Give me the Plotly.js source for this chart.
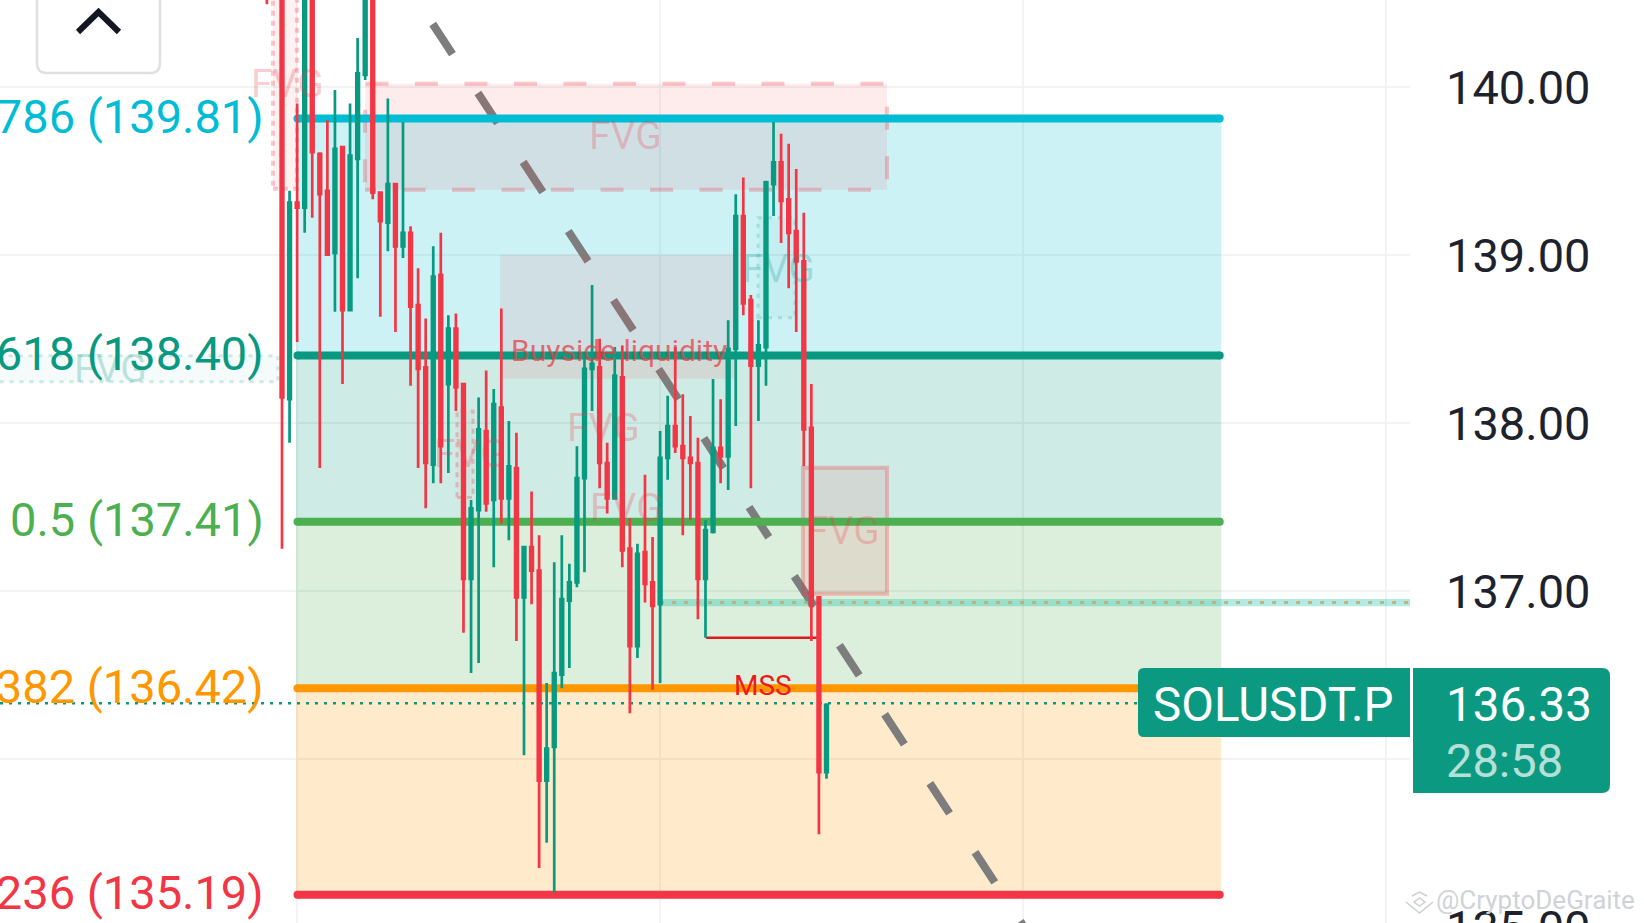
<!DOCTYPE html>
<html>
<head>
<meta charset="utf-8">
<script src="https://cdn.plot.ly/plotly-3.0.1.min.js"></script>
<style>html,body{margin:0;padding:0;background:#fff;overflow:hidden}#c{width:1644px;height:1000px}</style>
</head>
<body>
<div id="c"></div>
<script>
const open_ = [140.9,140.9,138.14,139.31,139.28,140.9,139.60,139.38,139.01,139.64,138.67,139.57,140.07,140.9,139.37,139.19,139.42,139.05,139.13,138.70,138.33,137.75,138.88,138.23,138.56,138.23,137.07,137.48,137.95,137.54,138.09,137.55,137.73,136.96,137.26,137.12,135.87,136.07,136.50,136.94,137.05,137.67,138.32,138.33,137.76,137.55,138.27,137.25,136.67,137.23,137.05,136.92,137.79,137.98,137.86,137.79,137.76,137.07,137.35,137.85,137.80,138.44,139.23,138.73,138.34,138.45,139.42,139.55,139.33,139.14,138.96,137.97,136.96,135.92];
const high_ = [141,141,139.38,139.90,141,141,139.61,139.80,139.98,139.64,139.90,140.29,141,141,139.37,139.93,139.42,139.79,139.17,138.92,138.62,139.05,139.13,138.64,138.65,138.23,137.54,138.15,138.31,138.20,138.68,138.01,137.94,137.26,137.59,137.33,136.45,137.17,137.33,137.16,137.86,138.38,138.82,138.50,137.88,138.45,138.46,137.43,137.28,137.69,137.32,137.95,138.16,138.45,138.17,138.04,137.91,137.42,138.26,138.14,138.61,139.36,139.46,138.76,138.61,139.44,139.79,139.72,139.66,139.51,139.25,138.23,136.96,136.33];
const low_ = [140.49,137.25,137.88,138.48,139.13,139.22,137.73,139.00,138.66,138.23,138.67,138.86,140.04,139.33,138.63,139.02,138.54,138.98,138.22,137.73,137.49,137.64,137.64,137.70,138.07,136.75,136.51,136.57,137.47,137.14,137.40,137.30,136.70,136.02,136.92,135.35,135.50,135.20,136.42,136.54,137.02,137.11,138.07,137.61,137.46,137.55,137.14,136.27,136.60,136.93,136.41,136.45,137.66,137.82,137.33,137.42,136.83,136.72,137.34,137.64,137.60,137.98,138.64,137.61,138.01,138.22,139.23,139.07,138.80,138.54,137.74,136.70,135.55,135.88];
const close_ = [140.55,138.15,139.31,139.28,140.9,139.61,139.36,139.00,139.63,138.67,139.59,140.08,140.9,139.37,139.20,139.42,139.05,139.13,138.69,138.32,137.76,138.87,137.86,138.56,138.21,137.07,137.49,137.96,137.52,138.11,137.55,137.74,136.96,137.26,137.12,135.87,136.06,136.51,136.95,137.05,137.67,138.32,138.35,137.76,137.55,138.28,137.24,136.67,137.22,137.04,136.91,137.79,137.98,137.86,137.79,137.76,137.07,137.36,137.85,137.80,138.44,139.23,138.71,138.34,138.46,139.43,139.55,139.32,139.13,138.96,137.96,136.91,135.92,136.32];
const candleIndex = [-2].concat(open_.slice(1).map((_, i) => i));

const fibNames = ["0.786","0.618","0.5","0.382","0.236"];
const fibPrices = [139.81,138.40,137.41,136.42,135.19];
const fibColors = ["#00bcd4","#089981","#4caf50","#ff9800","#f23645"];
const fibStart = 1.85, fibEnd = 124.2, fibLabelIndex = -2.1;
const fibLineStart = 2.05, fibLineEnd = 124.0;

const priceTicks = [140,139,138,137,136,135];
const priceTickText = ["140.00","139.00","138.00","137.00","","135.00"];
const timeTicks = [2,50,98,146];

const lastPrice = 136.33;
const dashedTrendX = [19.93,99.83];
const dashedTrendY = [140.373,134.88];
const mssX = [56.07,70.74];
const mssY = [136.72,136.72];

const zoneX0 = [10.98,-1.19,-40,62.94,28.83,23.14,68.89,50];
const zoneX1 = [80,1.98,-0.53,67.83,60.17,25.26,80,149.2];
const zoneY0 = [139.387,139.393,138.244,138.625,138.262,137.554,136.982,136.908];
const zoneY1 = [140.018,141,138.399,139.22,139.0,138.07,137.732,136.95];
const RED_F="rgba(242,54,69,0.1)", RED_L="rgba(242,54,69,0.28)", GRN_F="rgba(8,153,129,0.04)", GRN_L="rgba(8,153,129,0.2)";
const fvgDash = "11px,26.5px," + Array(30).fill("23px,26.5px").join(",");
const zoneStyle = [
 {f:RED_F,c:RED_L,w:4,d:fvgDash},
 {f:"rgba(242,54,69,0.07)",c:RED_L,w:4,d:"5px,5px"},
 {f:GRN_F,c:GRN_L,w:3,d:"4px,6px"},
 {f:GRN_F,c:GRN_L,w:3,d:"4px,6px"},
 {f:RED_F,c:"rgba(0,0,0,0)",w:0,d:"solid"},
 {f:"rgba(242,54,69,0.03)",c:RED_L,w:3,d:"5px,5px"},
 {f:RED_F,c:RED_L,w:4,d:"solid"},
 {f:"rgba(0,188,170,0.3)",c:"rgba(0,0,0,0)",w:0,d:"solid"}
];

const fvgLabelX = [45.36,0.79,-22.74,65.59,42.45,45.49,24.86,74.3];
const fvgLabelY = [139.708,140.018,138.32,138.917,137.97,137.494,137.816,137.357];
const fvgLabelColor = ["r","r","g","g","r","r","r","r"];

const W=1410, H=1000;
const px = v => v/W, py = v => 1 - v/H;
const shapes = [];
for(let i=0;i<fibPrices.length-1;i++){
  shapes.push({type:"rect",layer:"between",xref:"x",yref:"y",x0:fibStart,x1:fibEnd,y0:fibPrices[i+1],y1:fibPrices[i],
    fillcolor:fibColors[i+1===4?3:i].replace(/^#(..)(..)(..)$/,(m,a,b,c)=>`rgba(${parseInt(a,16)},${parseInt(b,16)},${parseInt(c,16)},0.2)`),line:{width:0}});
}
shapes.push({type:"line",layer:"between",xref:"x",yref:"y",x0:dashedTrendX[0],x1:dashedTrendX[1],y0:dashedTrendY[0],y1:dashedTrendY[1],
  line:{color:"#7d7d7d",width:8,dash:"36px,46.5px"}});
zoneX0.forEach((x,i)=>{const s=zoneStyle[i];
  shapes.push({type:"rect",layer:"between",xref:"x",yref:"y",x0:x,x1:zoneX1[i],y0:zoneY0[i],y1:zoneY1[i],fillcolor:s.f,line:{color:s.c,width:s.w,dash:s.d}});
});
shapes.push({type:"line",layer:"between",xref:"x",yref:"y",x0:50,x1:149.2,y0:136.93,y1:136.93,line:{color:"rgba(190,170,110,0.85)",width:3,dash:"4px,8px"}});
shapes.push({type:"line",layer:"between",xref:"x",yref:"y",x0:-37.29,x1:120,y0:lastPrice,y1:lastPrice,line:{color:"#089981",width:2.5,dash:"3px,6px"}});
shapes.push({type:"line",layer:"between",xref:"x",yref:"y",x0:mssX[0],x1:mssX[1],y0:mssY[0],y1:mssY[1],line:{color:"#dd1c1c",width:2.5}});

shapes.push({type:"path",layer:"above",xref:"paper",yref:"paper",
  path:`M ${px(37)} ${py(-10)} L ${px(37)} ${py(63)} Q ${px(37)} ${py(73)} ${px(47)} ${py(73)} L ${px(150)} ${py(73)} Q ${px(160)} ${py(73)} ${px(160)} ${py(63)} L ${px(160)} ${py(-10)}`,
  fillcolor:"#fff",line:{color:"#e2dfe1",width:2.5}});
shapes.push({type:"path",layer:"above",xref:"paper",yref:"paper",
  path:`M ${px(78)} ${py(32)} L ${px(98.5)} ${py(12)} L ${px(119)} ${py(32)}`,line:{color:"#131722",width:6}});
shapes.push({type:"path",layer:"above",xref:"paper",yref:"paper",
  path:`M ${px(1410)} ${py(668)} L ${px(1144)} ${py(668)} Q ${px(1138)} ${py(668)} ${px(1138)} ${py(674)} L ${px(1138)} ${py(731)} Q ${px(1138)} ${py(737)} ${px(1144)} ${py(737)} L ${px(1410)} ${py(737)} Z`,
  fillcolor:"#0b9981",line:{width:0}});
shapes.push({type:"path",layer:"above",xref:"paper",yref:"paper",
  path:`M ${px(1413)} ${py(668)} L ${px(1602)} ${py(668)} Q ${px(1610)} ${py(668)} ${px(1610)} ${py(676)} L ${px(1610)} ${py(785)} Q ${px(1610)} ${py(793)} ${px(1602)} ${py(793)} L ${px(1413)} ${py(793)} Z`,
  fillcolor:"#0b9981",line:{width:0}});
shapes.push({type:"path",layer:"above",xref:"paper",yref:"paper",
  path:`M ${px(1406)} ${py(902)} L ${px(1419.5)} ${py(913)} L ${px(1433)} ${py(902)} M ${px(1412)} ${py(896)} L ${px(1419.5)} ${py(892)} L ${px(1427)} ${py(896)} M ${px(1414)} ${py(902)} L ${px(1419.5)} ${py(898)} L ${px(1425)} ${py(902)} L ${px(1419.5)} ${py(906)} Z`,
  line:{color:"#ccd0d3",width:1.5}});

const annotations = [];
const ann = (o)=>annotations.push(Object.assign({showarrow:false,xanchor:"center",yanchor:"middle"},o));
fibNames.forEach((n,i)=>ann({xref:"x",yref:"y",x:fibLabelIndex,y:fibPrices[i],xanchor:"right",yshift:2,text:`${n} (${fibPrices[i].toFixed(2)})`,font:{family:"Roboto",size:47,color:fibColors[i]}}));
fvgLabelX.forEach((x,i)=>ann({xref:"x",yref:"y",x:x,y:fvgLabelY[i],text:"FVG",font:{family:"Roboto",size:39,color:fvgLabelColor[i]==="r"?"rgba(242,54,69,0.25)":"rgba(8,153,129,0.25)"}}));
ann({xref:"x",yref:"y",x:44.54,y:138.429,text:"Buyside liquidity",font:{family:"Roboto",size:30,color:"rgba(230,60,60,0.72)"}});
ann({xref:"x",yref:"y",x:63.6,y:136.435,text:"MSS",font:{family:"Roboto",size:28,color:"#ee1a1a"}});
ann({xref:"paper",yref:"paper",x:px(1273.5),y:py(705),text:"SOLUSDT.P",font:{family:"Roboto",size:47.5,color:"#ffffff"}});
ann({xref:"paper",yref:"paper",x:px(1443.5),y:py(705),xanchor:"left",text:"136.33",font:{family:"Roboto",size:47.5,color:"#ffffff"}});
ann({xref:"paper",yref:"paper",x:px(1444),y:py(760.5),xanchor:"left",text:"28:58",font:{family:"Roboto",size:47,color:"#b4e0d8"}});
ann({xref:"paper",yref:"paper",x:px(1434),y:py(900),xanchor:"left",text:"@CryptoDeGraite",font:{family:"Roboto",size:26,color:"#cfd3d6"}});

const traces = fibPrices.map((p,i)=>({type:"scatter",mode:"lines+markers",x:[fibLineStart,fibLineEnd],y:[p,p],hoverinfo:"skip",zorder:1,
  line:{color:fibColors[i],width:8},marker:{color:fibColors[i],size:8}}));
traces.push({type:"candlestick",x:candleIndex,open:open_,high:high_,low:low_,close:close_,zorder:2,hoverinfo:"skip",whiskerwidth:0,
  increasing:{line:{color:"#089981",width:2.7},fillcolor:"#089981"},
  decreasing:{line:{color:"#f23645",width:2.7},fillcolor:"#f23645"}});

const layout = {
  width:1644,height:H,margin:{l:0,r:234,t:0,b:0,pad:0},paper_bgcolor:"#fff",plot_bgcolor:"#fff",showlegend:false,boxgap:0.5,
  hovermode:false,font:{family:"Roboto"},
  xaxis:{type:"linear",range:[-37.29,149.16],rangeslider:{visible:false},tickmode:"array",tickvals:timeTicks,showticklabels:false,ticks:"",
    showgrid:true,gridcolor:"#f1f3f4",gridwidth:2,zeroline:false,showline:false,fixedrange:true},
  yaxis:{type:"linear",range:[140.516-H/168,140.516],side:"right",tickmode:"array",tickvals:priceTicks,ticktext:priceTickText,ticks:"",ticklabelstandoff:35,ticklabelshift:1,
    tickfont:{family:"Roboto",size:47,color:"#1e222d"},showgrid:true,gridcolor:"#f1f3f4",gridwidth:2,zeroline:false,showline:false,fixedrange:true},
  shapes:shapes,annotations:annotations
};
Plotly.newPlot("c",traces,layout,{displayModeBar:false,staticPlot:true});
</script>
</body>
</html>
